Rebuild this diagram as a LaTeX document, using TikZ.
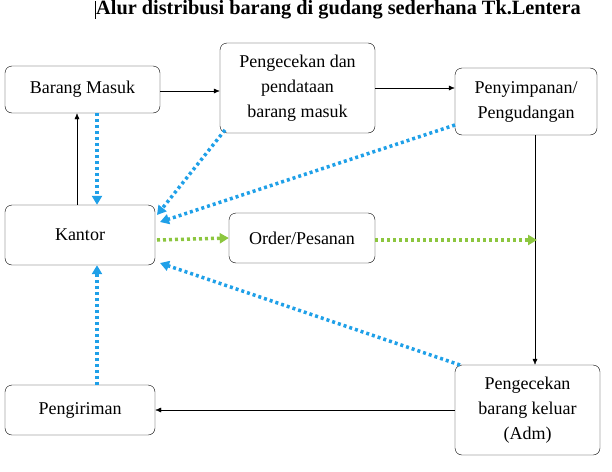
\documentclass[tikz,border=0pt]{standalone}
\usepackage{fontspec}
\setmainfont{Liberation Serif}
\usetikzlibrary{arrows.meta}
\definecolor{ablue}{HTML}{1FA0E8}
\definecolor{agreen}{HTML}{8CC63F}
\begin{document}
\begin{tikzpicture}[x=1pt,y=-1pt,
  box/.style={draw,rounded corners=7pt,align=center,font=\fontsize{18}{25}\selectfont,inner sep=0pt},
  blk/.style={draw,-{Latex[length=6pt,width=5pt]}},
  blu/.style={draw=ablue,line width=3.5pt,dash pattern=on 3pt off 3pt,-{Triangle[length=9pt,width=10pt]}},
  grn/.style={draw=agreen,line width=3.5pt,dash pattern=on 3pt off 3pt,-{Triangle[length=9pt,width=10pt]}}]
\useasboundingbox (0,0) rectangle (612,471);
\node[font=\bfseries\fontsize{20.3}{22}\selectfont,anchor=west,inner sep=0pt] (title) at (96,10) {Alur distribusi barang di gudang sederhana Tk.Lentera};
\draw (95,1) -- (95,19);
\node[box,minimum width=155pt,minimum height=47pt] (bm) at (82.5,89.5) {Barang Masuk};
\node[box,minimum width=155pt,minimum height=90pt] (pd) at (297.5,88) {Pengecekan dan\\pendataan\\barang masuk};
\node[box,minimum width=142pt,minimum height=67pt] (ps) at (526,101.5) {Penyimpanan/\\Pengudangan};
\node[box,minimum width=150pt,minimum height=60pt] (ka) at (80,235) {Kantor};
\node[box,minimum width=146pt,minimum height=50pt] (or) at (302,238) {Order/Pesanan};
\node[box,minimum width=150pt,minimum height=50pt] (pg) at (80,410) {Pengiriman};
\node[box,minimum width=145pt,minimum height=90pt] (pk) at (527.5,410) {Pengecekan\\barang keluar\\(Adm)};
\coordinate (gend) at (537,240);
\draw[blk] (bm.east |- 0,91) -- (pd.west |- 0,91);
\draw[blk] (pd.east |- 0,88) -- (ps.west |- 0,88);
\draw[blk] (ps.south -| 535,0) -- (pk.north -| 535,0);
\draw[blk] (pk.west |- 0,410) -- (pg.east |- 0,410);
\draw[blk] (ka.north -| 77,0) -- (bm.south -| 77,0);
\draw[blu] (bm.south -| 97,0) -- (ka.north -| 97,0);
\draw[blu] (225,130) -- (157,215);
\draw[blu] (455,125) -- (160,222);
\draw[blu] (460,365) -- (160,263);
\draw[blu] (pg.north -| 97,0) -- (ka.south -| 97,0);
\draw[grn] (157,240) -- (or.west);
\draw[grn] (or.east |- 0,240) -- (gend);
\end{tikzpicture}
\end{document}
